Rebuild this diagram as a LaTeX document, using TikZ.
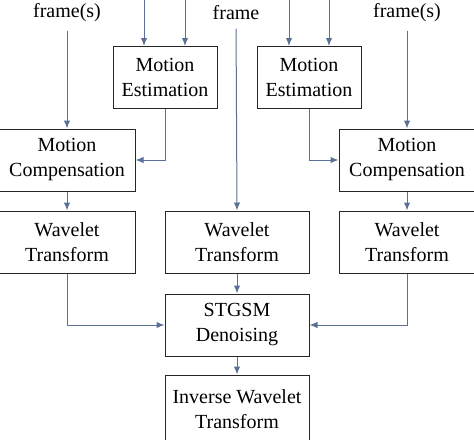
\documentclass[tikz,border=0pt]{standalone}
\usepackage{fontspec}
\setmainfont{Liberation Serif}
\newfontfamily\diagfont{Liberation Serif}
\usetikzlibrary{arrows.meta}
\definecolor{arrowblue}{RGB}{92,112,150}
\tikzset{
  block/.style={draw=black!85, line width=0.5pt, minimum width=72pt, minimum height=31pt, align=center, inner sep=1pt},
  sideblock/.style={block, minimum width=68pt},
  meblock/.style={block, minimum width=52pt},
  flow/.style={draw=arrowblue, line width=0.5pt, -{Latex[length=4pt,width=3.2pt]}},
  lbl/.style={inner sep=0pt}
}
\begin{document}
\begin{tikzpicture}[x=0.5pt, y=-0.5pt, font=\diagfont\fontsize{10pt}{12.5pt}\selectfont]
  \useasboundingbox (0,0) rectangle (474,439);

  \node[lbl] (fl) at (67,13) {frame(s)};
  \node[lbl] (fc) at (236,13) {frame};
  \node[lbl] (fr) at (407,13) {frame(s)};

  \coordinate (t1) at (144,-4);
  \coordinate (t2) at (185,-4);
  \coordinate (t3) at (289,-4);
  \coordinate (t4) at (329,-4);

  \node[meblock] (mel) at (165,77.5) {Motion\\Estimation};
  \node[meblock] (mer) at (309,77.5) {Motion\\Estimation};
  \node[sideblock] (mcl) at (67,160) {Motion\\Compensation};
  \node[sideblock] (mcr) at (407,160) {Motion\\Compensation};
  \node[sideblock] (wtl) at (67,242) {Wavelet\\Transform};
  \node[block] (wtc) at (237,242) {Wavelet\\Transform};
  \node[sideblock] (wtr) at (407,242) {Wavelet\\Transform};
  \node[block] (stg) at (237,325) {STGSM\\Denoising};
  \node[block, minimum height=34pt] (iwt) at (237,409) {Inverse Wavelet\\Transform};

  \draw[flow] (t1) -- (t1 |- mel.north);
  \draw[flow] (t2) -- (t2 |- mel.north);
  \draw[flow] (t3) -- (t3 |- mer.north);
  \draw[flow] (t4) -- (t4 |- mer.north);

  \draw[flow, shorten <=4pt] (fl.south) -- (mcl.north);
  \draw[flow, shorten <=4pt] (fc.south) -- (wtc.north);
  \draw[flow, shorten <=4pt] (fr.south) -- (mcr.north);

  \draw[flow] (mel.south) |- (mcl.east);
  \draw[flow] (mer.south) |- (mcr.west);
  \draw[flow] (mcl) -- (wtl);
  \draw[flow] (mcr) -- (wtr);
  \draw[flow] (wtl.south) |- (stg.west);
  \draw[flow] (wtr.south) |- (stg.east);
  \draw[flow] (wtc) -- (stg);
  \draw[flow] (stg) -- (iwt);
\end{tikzpicture}
\end{document}
